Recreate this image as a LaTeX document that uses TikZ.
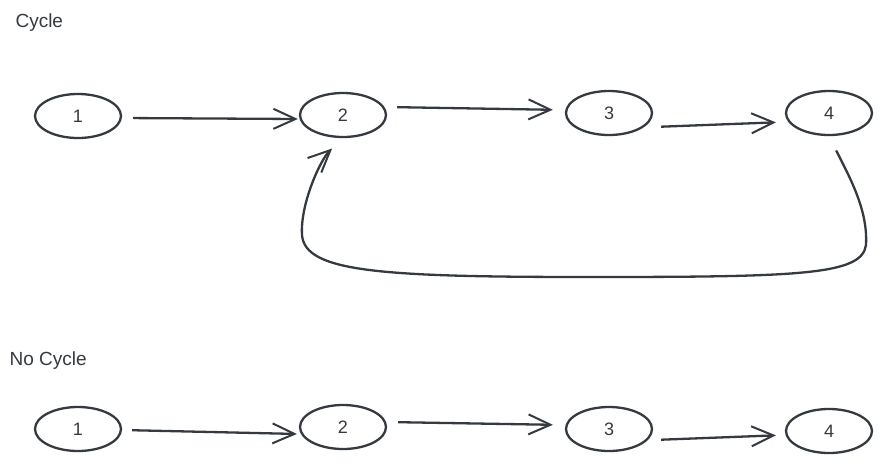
\documentclass[tikz,border=0pt]{standalone}
\usepackage{fontspec}
\setmainfont{Liberation Sans}
\usetikzlibrary{positioning,arrows.meta,shapes.geometric}
\definecolor{ink}{HTML}{343A40}
\tikzset{
  linkarr/.style={-{Straight Barb[length=22pt,width=20pt,line width=2pt]},line width=2.3pt,draw=ink},
  vertex/.style={draw=ink,ellipse,line width=2.3pt,minimum width=86pt,minimum height=44pt,
                 inner sep=0pt,font=\fontsize{18}{20}\selectfont,text=ink},
  title/.style={anchor=west,font=\fontsize{19}{21}\selectfont,text=ink}
}

\begin{document}
\begin{tikzpicture}[x=1pt,y=-1pt]
\useasboundingbox (0,0) rectangle (884,464);

% with cycle
\node[title] (tcyc) at (12,23) {Cycle};
\node[vertex] (c1) at (78,116) {1};
\node[vertex] (c2) at (343,115) {2};
\node[vertex] (c3) at (609,113) {3};
\node[vertex] (c4) at (829,113) {4};

\draw[linkarr, shorten <=11pt, shorten >=1pt] ([yshift=-2pt]c1.east) -- ([yshift=-4pt]c2.west);
\draw[linkarr, shorten <=10pt, shorten >=12pt] ([yshift=8pt]c2.east) -- ([yshift=3pt]c3.west);
\draw[linkarr, shorten <=8pt, shorten >=9pt] ([yshift=-14pt]c3.east) -- ([yshift=-9pt]c4.west);
\draw[linkarr, shorten <=16pt, shorten >=15pt] (c4.south)
   .. controls (850,178) and (868,210) .. (866,245)
   .. controls (862,275) and (800,277) .. (590,277)
   .. controls (380,277) and (305,272) .. (302,235)
   .. controls (300,205) and (320,160) .. (c2.south);

% without cycle
\node[title] (tnocyc) at (6,361) {No Cycle};
\node[vertex] (n1) at (78,429) {1};
\node[vertex] (n2) at (343,427) {2};
\node[vertex] (n3) at (609,429) {3};
\node[vertex] (n4) at (829,431) {4};

\draw[linkarr, shorten <=10pt, shorten >=2pt] ([yshift=-1pt]n1.east) -- ([yshift=-7pt]n2.west);
\draw[linkarr, shorten <=11pt, shorten >=12pt] ([yshift=5pt]n2.east) -- ([yshift=4pt]n3.west);
\draw[linkarr, shorten <=8pt, shorten >=9pt] ([yshift=-11pt]n3.east) -- ([yshift=-4pt]n4.west);
\end{tikzpicture}
\end{document}
